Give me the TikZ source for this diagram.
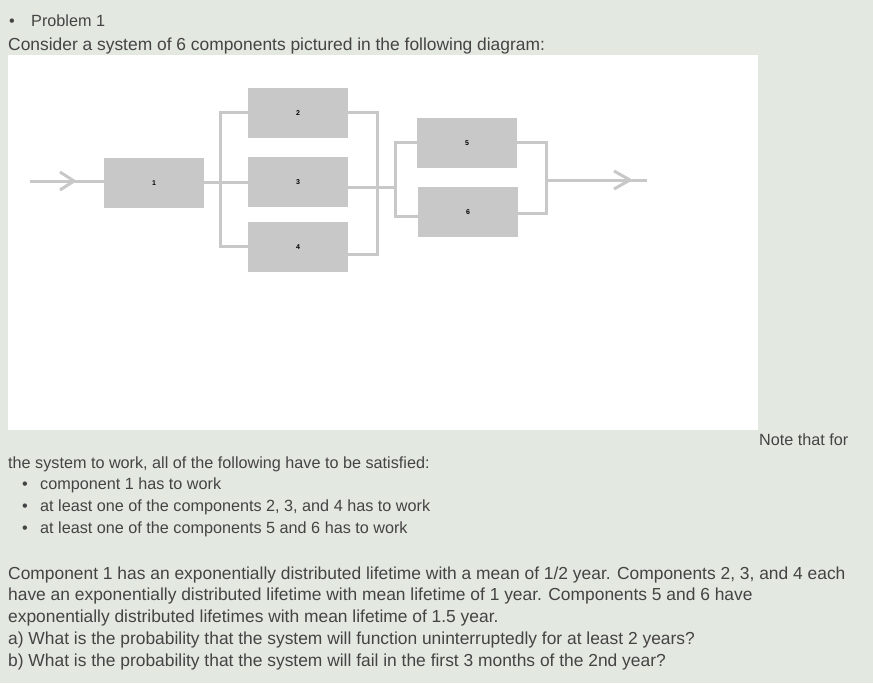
\documentclass[tikz,border=0pt]{standalone}
\usepackage{fontspec}
\setmainfont{Liberation Sans}
\begin{document}
\begin{tikzpicture}[x=1pt,y=-1pt,
  comp/.style={fill=compgray,draw=none,minimum width=100pt,minimum height=50pt,inner sep=0pt,font=\fontsize{7}{8}\selectfont\bfseries},
  wire/.style={draw=compgray,line width=3pt},
  txt/.style={anchor=base west,inner sep=0pt,text=textgray,font=\fontsize{17.4}{19}\selectfont},
  stxt/.style={anchor=base west,inner sep=0pt,text=textgray,font=\fontsize{16.2}{18}\selectfont}]
\definecolor{compgray}{HTML}{C8C8C8}
\definecolor{textgray}{HTML}{444444}
\definecolor{bgc}{HTML}{E3E8E0}
\fill[bgc] (0,0) rectangle (873,683);
\useasboundingbox (0,0) rectangle (873,683);
\fill[white] (8,55) rectangle (758,430);
% components
\node[comp] (c1) at (154,183) {1};
\node[comp] (c2) at (298,113) {2};
\node[comp] (c3) at (298,182) {3};
\node[comp] (c4) at (298,247) {4};
\node[comp] (c5) at (467,143) {5};
\node[comp] (c6) at (468,212) {6};
\coordinate (in0) at (30,181);
\coordinate (out1) at (647,180);
% wiring
\draw[wire] (in0) -- (c1.west |- in0);
\draw[wire] (in0)++(44,0) -- ++(-14,-9) (in0)++(44,0) -- ++(-14,9);
\draw[wire] (c1.east |- 0,182) -- (c3.west);
\draw[wire] (c2.west |- 0,112) -- (220,112) -- (220,246) -- (c4.west |- 0,246);
\draw[wire] (c2.east |- 0,112) -- (377,112) -- (377,254) -- (c4.east |- 0,254);
\draw[wire] (c3.east |- 0,187) -- (395,187);
\draw[wire] (c5.west |- 0,142) -- (395,142) -- (395,216) -- (c6.west |- 0,216);
\draw[wire] (c5.east |- 0,142) -- (546,142) -- (546,213) -- (c6.east |- 0,213);
\draw[wire] (546,180) -- (out1);
\draw[wire] (630,180) -- ++(-16,-9) (630,180) -- ++(-16,9);
% text
\node[stxt] (bul0) at (9,26) {\textbullet};
\node[stxt] (t0) at (31,26) {Problem 1};
\node[txt] (t1) at (8,50) {Consider a system of 6 components pictured in the following diagram:};
\node[stxt] (t2) at (759,445) {Note that for};
\node[stxt] (t3) at (8,468) {the system to work, all of the following have to be satisfied:};
\node[stxt] (b1) at (22,489) {\textbullet};
\node[stxt] (t4) at (40,489) {component 1 has to work};
\node[stxt] (b2) at (22,511) {\textbullet};
\node[stxt] (t5) at (40,511) {at least one of the components 2, 3, and 4 has to work};
\node[stxt] (b3) at (22,533) {\textbullet};
\node[stxt] (t6) at (40,533) {at least one of the components 5 and 6 has to work};
\node[txt] (t7) at (8,579) {Component 1 has an exponentially distributed lifetime with a mean of 1/2 year. Components 2, 3, and 4 each};
\node[txt] (t8) at (8,600) {have an exponentially distributed lifetime with mean lifetime of 1 year. Components 5 and 6 have};
\node[txt] (t9) at (8,622) {exponentially distributed lifetimes with mean lifetime of 1.5 year.};
\node[txt] (t10) at (8,644) {a) What is the probability that the system will function uninterruptedly for at least 2 years?};
\node[txt] (t11) at (8,666) {b) What is the probability that the system will fail in the first 3 months of the 2nd year?};
\end{tikzpicture}
\end{document}
